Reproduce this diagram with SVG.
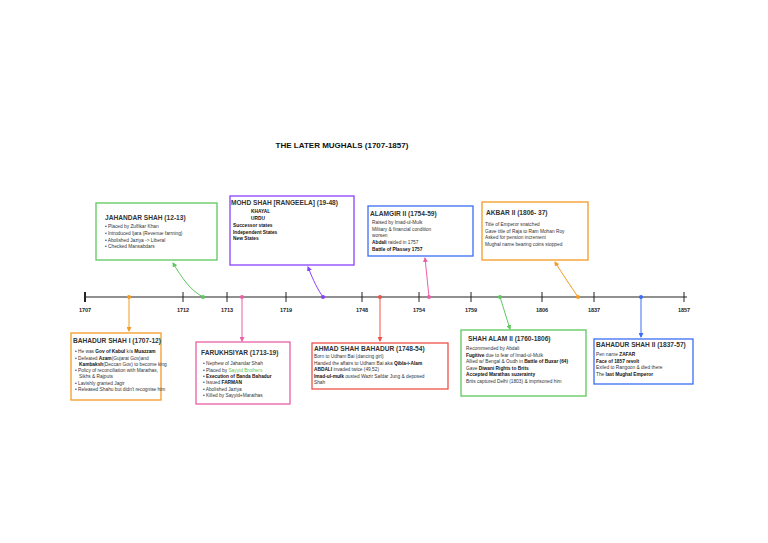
<svg xmlns="http://www.w3.org/2000/svg" width="768" height="543" viewBox="0 0 768 543">
<style>
text{font-family:"Liberation Sans",Arial,sans-serif;font-size:4.8px;fill:#333}
.b{font-weight:bold;fill:#111}
.t{font-size:6.6px;font-weight:bold}
.box{fill:#fff;stroke-width:1.3}
.yr{font-size:5.5px;font-weight:bold;fill:#222;text-anchor:middle}
.c{fill:none;stroke-width:1}
</style>
<defs>
<marker id="ah" viewBox="0 0 10 10" refX="8" refY="5" markerWidth="5" markerHeight="5" orient="auto"><path d="M0,0L10,5L0,10z" fill="context-stroke"/></marker>
</defs>
<rect width="768" height="543" fill="#fff"/>
<text x="342" y="148" class="b" style="font-size:8px" text-anchor="middle">THE LATER MUGHALS (1707-1857)</text>
<g id="timeline" stroke="#222">
<line x1="85" y1="297" x2="687" y2="297" stroke-width="1.2"/>
<line x1="85" y1="292" x2="85" y2="302" stroke-width="2"/>
<g stroke-width="1"><line x1="183" y1="292" x2="183" y2="302"/><line x1="227" y1="292" x2="227" y2="302"/><line x1="286" y1="292" x2="286" y2="302"/><line x1="362" y1="292" x2="362" y2="302"/><line x1="419" y1="292" x2="419" y2="302"/><line x1="471" y1="292" x2="471" y2="302"/><line x1="542" y1="292" x2="542" y2="302"/><line x1="594" y1="292" x2="594" y2="302"/><line x1="684" y1="292" x2="684" y2="302"/></g>
</g>
<g id="years">
<text x="85" y="312" class="yr">1707</text><text x="183" y="312" class="yr">1712</text><text x="227" y="312" class="yr">1713</text><text x="286" y="312" class="yr">1719</text><text x="362" y="312" class="yr">1748</text><text x="419" y="312" class="yr">1754</text><text x="471" y="312" class="yr">1759</text><text x="542" y="312" class="yr">1806</text><text x="594" y="312" class="yr">1837</text><text x="684" y="312" class="yr">1857</text>
</g>
<g id="connectors">
<path class="c" stroke="#5cc85c" d="M203,297 C190,290 182,278 173,263" marker-end="url(#ah)"/>
<path class="c" stroke="#8a3ffc" d="M323,297 C318,290 313,280 308,267" marker-end="url(#ah)"/>
<path class="c" stroke="#ec5fa6" d="M429,297 L425,258" marker-end="url(#ah)"/>
<path class="c" stroke="#f59a23" d="M578,297 C570,285 563,275 555,262" marker-end="url(#ah)"/>
<path class="c" stroke="#f59a23" d="M129,297 L129,331" marker-end="url(#ah)"/>
<path class="c" stroke="#ec5fa6" d="M242,297 L242,341" marker-end="url(#ah)"/>
<path class="c" stroke="#f0524a" d="M380,297 L380,341" marker-end="url(#ah)"/>
<path class="c" stroke="#5cc85c" d="M500,297 L510,329" marker-end="url(#ah)"/>
<path class="c" stroke="#3b6ef5" d="M641,297 L641,337" marker-end="url(#ah)"/>
<circle cx="129" cy="297" r="2" fill="#f59a23"/><circle cx="203" cy="297" r="2" fill="#5cc85c"/><circle cx="242" cy="297" r="2" fill="#ec5fa6"/><circle cx="323" cy="297" r="2" fill="#8a3ffc"/><circle cx="380" cy="297" r="2" fill="#f0524a"/><circle cx="429" cy="297" r="2" fill="#ec5fa6"/><circle cx="500" cy="297" r="2" fill="#5cc85c"/><circle cx="578" cy="297" r="2" fill="#f59a23"/><circle cx="641" cy="297" r="2" fill="#3b6ef5"/>
</g>
<g id="jahandar">
<rect class="box" x="96" y="203" width="121" height="57" stroke="#5cc85c"/>
<text x="105" y="220" class="t" fill="#5cc85c">JAHANDAR SHAH (12-13)</text>
<text x="105" y="228">•  Placed by Zulfikar Khan</text>
<text x="105" y="235">•  Introduced Ijara (Revenue farming)</text>
<text x="105" y="241.5">•  Abolished Jaziya -&gt; Liberal</text>
<text x="105" y="248">•  Checked Mansabdars</text>
</g>
<g id="mohdshah">
<rect class="box" x="230" y="196" width="124" height="69" stroke="#8a3ffc"/>
<text x="231" y="205" class="t" fill="#8a3ffc">MOHD SHAH [RANGEELA] (19-48)</text>
<text x="251" y="213" class="b">KHAYAL</text>
<text x="251" y="220" class="b">URDU</text>
<text x="233" y="227" class="b">Successor states</text>
<text x="233" y="234" class="b">Independent States</text>
<text x="233" y="240" class="b">New States</text>
</g>
<g id="alamgir">
<rect class="box" x="368" y="206" width="105" height="50" stroke="#3b6ef5"/>
<text x="370" y="216" class="t" fill="#ec5fa6">ALAMGIR II (1754-59)</text>
<text x="372" y="224">Raised by Imad-ul-Mulk</text>
<text x="372" y="231">Military &amp; financial condition</text>
<text x="372" y="237">worsen</text>
<text x="372" y="243.5"><tspan class="b">Abdali</tspan> raided in 1757</text>
<text x="372" y="250.5" class="b">Battle of Plassey 1757</text>
</g>
<g id="akbar">
<rect class="box" x="482" y="202" width="106" height="58" stroke="#f59a23"/>
<text x="486" y="215" class="t" fill="#f59a23">AKBAR II (1806- 37)</text>
<text x="485" y="226">Title of Emperor snatched</text>
<text x="485" y="232.5">Gave title of Raja to Ram Mohan Roy</text>
<text x="485" y="239">Asked for pension increment</text>
<text x="485" y="245.5">Mughal name bearing coins stopped</text>
</g>
<g id="bahadur1">
<rect class="box" x="71" y="333" width="90" height="67" stroke="#f59a23"/>
<text x="73" y="343" class="t" fill="#f59a23">BAHADUR SHAH I (1707-12)</text>
<text x="75" y="353">•  He was <tspan class="b">Gov of Kabul</tspan> k/a <tspan class="b">Muazzam</tspan></text>
<text x="75" y="359.5">•  Defeated <tspan class="b">Azam</tspan>(Gujarat Gov)and</text>
<text x="79" y="366"><tspan class="b">Kambaksh</tspan>(Deccan Gov) to become king</text>
<text x="75" y="372">•  Policy of reconciliation with Marathas,</text>
<text x="79" y="378">Sikhs &amp; Rajputs</text>
<text x="75" y="384.5">•  Lavishly granted Jagir</text>
<text x="75" y="391">•  Released Shahu but didn't recognise him</text>
</g>
<g id="farukhsiyar">
<rect class="box" x="196" y="342" width="94" height="62" stroke="#ec5fa6"/>
<text x="201" y="355" class="t" fill="#ec5fa6">FARUKHSIYAR (1713-19)</text>
<text x="203" y="365">•  Nephew of Jahandar Shah</text>
<text x="203" y="371.5">•  Placed by <tspan fill="#5cc85c">Sayyid Brothers</tspan></text>
<text x="203" y="378">•  <tspan class="b">Execution of Banda Bahadur</tspan></text>
<text x="203" y="384">•  Issued <tspan class="b">FARMAN</tspan></text>
<text x="203" y="391">•  Abolished Jaziya</text>
<text x="203" y="397">•  Killed by Sayyid+Marathas</text>
</g>
<g id="ahmadshah">
<rect class="box" x="312" y="343" width="136" height="46" stroke="#f0524a"/>
<text x="314" y="351" class="t" fill="#f0524a">AHMAD SHAH BAHADUR (1748-54)</text>
<text x="314" y="358">Born to Udham Bai (dancing girl)</text>
<text x="314" y="364.5">Handed the affairs to Udham Bai aka <tspan class="b">Qibla-i-Alam</tspan></text>
<text x="314" y="371"><tspan class="b">ABDALI</tspan> invaded twice (49,52)</text>
<text x="314" y="377.5"><tspan class="b">Imad-ul-mulk</tspan> ousted Wazir Safdar Jung &amp; deposed</text>
<text x="314" y="384">Shah</text>
</g>
<g id="shahalam">
<rect class="box" x="461" y="330" width="125" height="66" stroke="#5cc85c"/>
<text x="468" y="341" class="t" fill="#5cc85c">SHAH ALAM II (1760-1806)</text>
<text x="466" y="350">Recommended by Abdali</text>
<text x="466" y="356.5"><tspan class="b">Fugitive</tspan> due to fear of Imad-ul-Mulk</text>
<text x="466" y="363">Allied w/ Bengal &amp; Oudh in <tspan class="b">Battle of Buxar (64)</tspan></text>
<text x="466" y="369.5">Gave <tspan class="b">Diwani Rights to Brits</tspan></text>
<text x="466" y="376" class="b">Accepted Marathas suzerainty</text>
<text x="466" y="382.5">Brits captured Delhi (1803) &amp; imprisoned him</text>
</g>
<g id="bahadur2">
<rect class="box" x="594" y="339" width="99" height="45" stroke="#3b6ef5"/>
<text x="596" y="347" class="t" fill="#3b6ef5">BAHADUR SHAH II (1837-57)</text>
<text x="596" y="356">Pen name <tspan class="b">ZAFAR</tspan></text>
<text x="596" y="362.5" class="b">Face of 1857 revolt</text>
<text x="596" y="369">Exiled to Rangoon &amp; died there</text>
<text x="596" y="375.5">The <tspan class="b">last Mughal Emperor</tspan></text>
</g>
</svg>
